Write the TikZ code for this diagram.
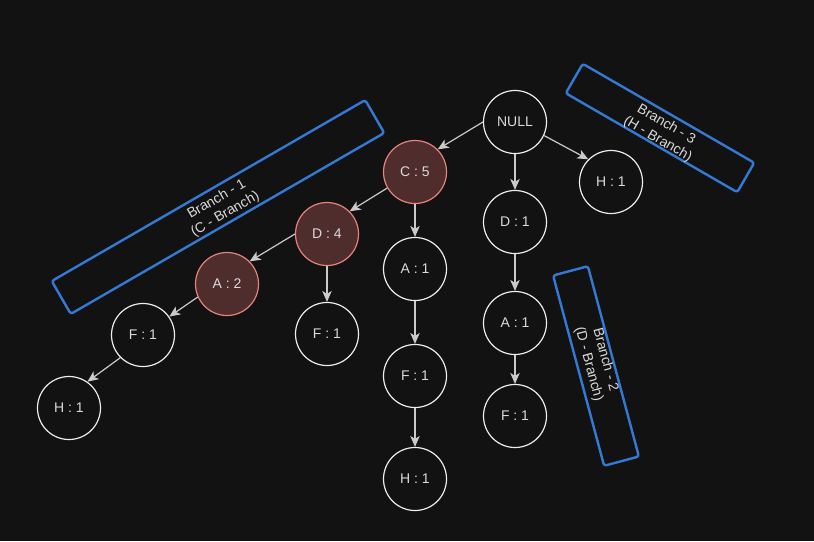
\documentclass[tikz,border=0pt]{standalone}
\usepackage{fontspec}
\setmainfont{Liberation Sans}
\usepackage{tikz}
\usetikzlibrary{shapes}
\usetikzlibrary{arrows.meta}
\definecolor{bg}{HTML}{121212}
\definecolor{txt}{HTML}{DADADA}
\definecolor{linkgray}{HTML}{CACACA}
\definecolor{ring}{HTML}{EEEEEE}
\definecolor{hotfill}{HTML}{4F2D2D}
\definecolor{hotring}{HTML}{E8837C}
\definecolor{branchblue}{HTML}{3479D4}
\tikzset{
	main node/.style={circle,draw=ring,line width=1.2pt,minimum size=63pt,inner sep=0pt,
		text=txt,font=\fontsize{14}{16}\selectfont},
	hot node/.style={main node,fill=hotfill,draw=hotring},
	branchbox/.style={draw=branchblue,line width=2.4pt,rounded corners=2.5pt,inner sep=0pt},
	branchtext/.style={text=txt,align=center,inner sep=0pt,font=\fontsize{14}{17}\selectfont}
}

\begin{document}
\begin{tikzpicture}[x=1pt,y=-1pt,>={Stealth[length=11pt,width=9.5pt,inset=3pt]},
		    link/.style={->,draw=linkgray,line width=1.2pt}]
	\useasboundingbox (0,0) rectangle (814,541);
	\fill[bg] (0,0) rectangle (814,541);
	% branch frames
	\node [branchbox,minimum width=362pt,minimum height=38pt,rotate=30] (b1) at (218,207) {};
	\node [branchtext,rotate=30] (t1) at (221,207) {Branch - 1\\(C - Branch)};
	\node [branchbox,minimum width=197pt,minimum height=36pt,rotate=-75] (b2) at (596,366) {};
	\node [branchtext,rotate=-75] (t2) at (597,362) {Branch - 2\\(D - Branch)};
	\node [branchbox,minimum width=198pt,minimum height=34pt,rotate=-30] (b3) at (660,128) {};
	\node [branchtext,rotate=-30] (t3) at (662,132) {Branch - 3\\(H - Branch)};
	% tree
	\node [main node] (null) at (515,122) {NULL};
	\node [hot node] (c5) at (415,172) {C : 5};
	\node [main node] (h1r) at (611,182) {H : 1};
	\node [main node] (d1) at (515,222) {D : 1};
	\node [hot node] (d4) at (327,234) {D : 4};
	\node [main node] (a1m) at (415,269) {A : 1};
	\node [hot node] (a2) at (227,284) {A : 2};
	\node [main node] (a1r) at (515,323) {A : 1};
	\node [main node] (f1l) at (143,335) {F : 1};
	\node [main node] (f1d) at (327,334) {F : 1};
	\node [main node] (f1m) at (415,376) {F : 1};
	\node [main node] (f1r) at (515,416) {F : 1};
	\node [main node] (h1l) at (69,408) {H : 1};
	\node [main node] (h1m) at (415,479) {H : 1};
	\draw[link] (null.west) -- (c5.north east);
	\draw[link] (null.-25) -- (h1r.north west);
	\draw[link] (null) -- (d1);
	\draw[link] (c5.210) -- (d4.north east);
	\draw[link] (c5) -- (a1m);
	\draw[link] (d4.west) -- (a2.north east);
	\draw[link] (d4) -- (f1d);
	\draw[link] (a2.204) -- (f1l.35);
	\draw[link] (f1l.south west) -- (h1l.55);
	\draw[link] (a1m) -- (f1m);
	\draw[link] (f1m) -- (h1m);
	\draw[link] (d1) -- (a1r);
	\draw[link] (a1r) -- (f1r);
\end{tikzpicture}
\end{document}
